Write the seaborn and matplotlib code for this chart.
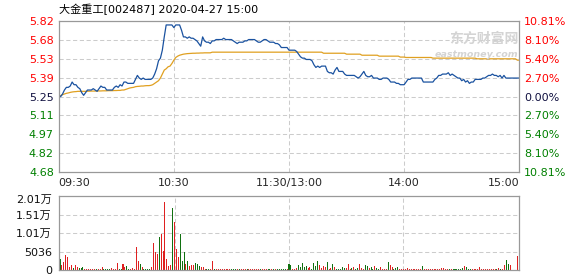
import numpy as np
import pandas as pd
import matplotlib
matplotlib.use("Agg")
import matplotlib.pyplot as plt
import seaborn as sns
from matplotlib.transforms import ScaledTranslation

# ---------------- data ----------------
title = "大金重工[002487] 2020-04-27 15:00"
prev_close = 5.25
price_ticks = [4.6825, 4.8244, 4.9662, 5.1081, 5.25, 5.3919, 5.5338, 5.6756, 5.8175]
price_tick_labels = ["4.68", "4.82", "4.97", "5.11", "5.25", "5.39", "5.53", "5.68", "5.82"]
pct_tick_labels = ["10.81%", "8.10%", "5.40%", "2.70%", "0.00%", "2.70%", "5.40%", "8.10%", "10.81%"]
time_ticks = [0, 60, 120, 180, 240]
time_labels = ["09:30", "10:30", "11:30/13:00", "14:00", "15:00"]
vol_ticks = [0, 5036, 10072, 15108, 20144]
vol_tick_labels = ["0", "5036", "1.01万", "1.51万", "2.01万"]
watermark_cn = "东方财富网"
watermark_en = "eastmoney.com"

price = [
    5.26, 5.25, 5.27, 5.30, 5.32, 5.32, 5.33, 5.36, 5.34, 5.34,
    5.32, 5.31, 5.28, 5.26, 5.28, 5.30, 5.30, 5.30, 5.31, 5.30,
    5.29, 5.31, 5.33, 5.32, 5.32, 5.30, 5.30, 5.30, 5.30, 5.32,
    5.33, 5.32, 5.34, 5.33, 5.36, 5.36, 5.35, 5.35, 5.35, 5.35,
    5.38, 5.41, 5.39, 5.38, 5.39, 5.38, 5.38, 5.38, 5.38, 5.39,
    5.42, 5.46, 5.52, 5.54, 5.60, 5.70, 5.79, 5.79, 5.79, 5.79,
    5.77, 5.79, 5.79, 5.79, 5.75, 5.70, 5.70, 5.69, 5.70, 5.69,
    5.69, 5.68, 5.67, 5.65, 5.63, 5.70, 5.67, 5.66, 5.66, 5.65,
    5.67, 5.67, 5.68, 5.68, 5.68, 5.68, 5.69, 5.68, 5.68, 5.68,
    5.68, 5.67, 5.66, 5.65, 5.66, 5.66, 5.66, 5.67, 5.67, 5.68,
    5.68, 5.68, 5.68, 5.67, 5.66, 5.66, 5.67, 5.68, 5.68, 5.67,
    5.66, 5.66, 5.66, 5.65, 5.65, 5.64, 5.62, 5.62, 5.62, 5.62,
    5.60, 5.60, 5.60, 5.60, 5.59, 5.57, 5.55, 5.54, 5.54, 5.53,
    5.53, 5.53, 5.52, 5.49, 5.47, 5.48, 5.47, 5.48, 5.48, 5.48,
    5.44, 5.43, 5.43, 5.42, 5.45, 5.47, 5.44, 5.44, 5.44, 5.42,
    5.41, 5.41, 5.41, 5.41, 5.41, 5.40, 5.39, 5.40, 5.42, 5.44,
    5.41, 5.40, 5.40, 5.41, 5.39, 5.39, 5.39, 5.38, 5.38, 5.39,
    5.39, 5.39, 5.38, 5.36, 5.36, 5.36, 5.35, 5.35, 5.34, 5.34,
    5.34, 5.36, 5.38, 5.38, 5.39, 5.39, 5.39, 5.39, 5.39, 5.39,
    5.36, 5.36, 5.36, 5.36, 5.36, 5.36, 5.38, 5.39, 5.41, 5.41,
    5.42, 5.42, 5.42, 5.43, 5.41, 5.42, 5.41, 5.40, 5.39, 5.39,
    5.37, 5.38, 5.36, 5.37, 5.35, 5.36, 5.36, 5.38, 5.38, 5.38,
    5.38, 5.39, 5.39, 5.40, 5.41, 5.41, 5.42, 5.41, 5.41, 5.40,
    5.41, 5.39, 5.41, 5.39, 5.39, 5.39, 5.39, 5.39, 5.39, 5.39,
    5.39,
]

avg_price = [
    5.250, 5.258, 5.265, 5.270, 5.275, 5.278, 5.282, 5.285, 5.287, 5.288,
    5.290, 5.290, 5.290, 5.290, 5.290, 5.291, 5.291, 5.292, 5.292, 5.292,
    5.293, 5.293, 5.293, 5.294, 5.294, 5.294, 5.295, 5.295, 5.295, 5.296,
    5.296, 5.297, 5.297, 5.300, 5.300, 5.305, 5.310, 5.315, 5.318, 5.320,
    5.325, 5.327, 5.328, 5.330, 5.330, 5.332, 5.333, 5.333, 5.335, 5.340,
    5.350, 5.360, 5.370, 5.390, 5.420, 5.450, 5.460, 5.475, 5.480, 5.500,
    5.525, 5.545, 5.555, 5.562, 5.566, 5.570, 5.572, 5.574, 5.575, 5.576,
    5.577, 5.577, 5.578, 5.578, 5.579, 5.579, 5.580, 5.580, 5.580, 5.580,
    5.585, 5.585, 5.585, 5.585, 5.585, 5.585, 5.585, 5.585, 5.585, 5.585,
    5.585, 5.585, 5.585, 5.585, 5.585, 5.585, 5.585, 5.585, 5.585, 5.585,
    5.585, 5.585, 5.585, 5.585, 5.585, 5.585, 5.585, 5.585, 5.585, 5.585,
    5.585, 5.585, 5.585, 5.585, 5.585, 5.585, 5.585, 5.585, 5.585, 5.585,
    5.585, 5.585, 5.585, 5.585, 5.585, 5.585, 5.585, 5.585, 5.585, 5.585,
    5.585, 5.585, 5.585, 5.585, 5.585, 5.585, 5.585, 5.585, 5.577, 5.577,
    5.577, 5.577, 5.577, 5.577, 5.577, 5.577, 5.577, 5.577, 5.577, 5.577,
    5.570, 5.570, 5.570, 5.570, 5.570, 5.570, 5.570, 5.570, 5.562, 5.562,
    5.562, 5.562, 5.562, 5.562, 5.562, 5.562, 5.562, 5.555, 5.555, 5.555,
    5.555, 5.555, 5.555, 5.555, 5.555, 5.555, 5.555, 5.555, 5.548, 5.548,
    5.548, 5.545, 5.545, 5.545, 5.545, 5.545, 5.545, 5.545, 5.545, 5.545,
    5.545, 5.545, 5.545, 5.545, 5.545, 5.540, 5.540, 5.540, 5.540, 5.540,
    5.540, 5.540, 5.540, 5.540, 5.540, 5.540, 5.540, 5.540, 5.540, 5.540,
    5.540, 5.540, 5.540, 5.540, 5.540, 5.540, 5.540, 5.540, 5.535, 5.535,
    5.535, 5.535, 5.535, 5.535, 5.535, 5.535, 5.535, 5.535, 5.535, 5.535,
    5.535, 5.535, 5.535, 5.535, 5.535, 5.535, 5.535, 5.535, 5.535, 5.525,
    5.525,
]

volume = [
    2990, 1360, 2270, 4080, 3630, 900, 1360, 630, 1360, 900,
    500, 630, 730, 270, 270, 270, 270, 270, 270, 270,
    270, 270, 730, 270, 270, 270, 270, 450, 270, 270,
    1810, 270, 270, 1630, 730, 1090, 270, 270, 450, 270,
    6170, 2450, 1630, 800, 270, 270, 270, 270, 730, 7440,
    4990, 4350, 9070, 9800, 5170, 18500, 3000, 1090, 1360, 16870,
    13060, 5710, 3630, 9800, 2450, 4900, 1630, 2450, 1180, 1360,
    1360, 1810, 1630, 1090, 900, 730, 270, 270, 270, 270,
    2450, 270, 270, 270, 180, 270, 180, 270, 270, 270,
    270, 270, 270, 180, 270, 270, 270, 270, 180, 270,
    270, 270, 180, 270, 270, 270, 270, 270, 270, 270,
    270, 270, 270, 270, 270, 270, 270, 270, 180, 270,
    1630, 1360, 270, 180, 450, 1360, 900, 2000, 730, 1090,
    450, 730, 180, 2000, 1090, 2450, 1360, 450, 1090, 730,
    2270, 360, 540, 1630, 900, 270, 270, 270, 730, 540,
    540, 1630, 270, 540, 900, 270, 635, 1630, 540, 270,
    1360, 1090, 635, 900, 360, 1090, 450, 270, 900, 270,
    270, 270, 2270, 1360, 726, 360, 635, 820, 270, 270,
    270, 270, 544, 270, 270, 270, 270, 270, 270, 270,
    1090, 270, 270, 270, 270, 270, 270, 270, 270, 270,
    450, 544, 360, 360, 270, 270, 270, 270, 270, 270,
    270, 454, 1088, 726, 270, 270, 270, 363, 270, 270,
    726, 270, 270, 270, 270, 270, 270, 270, 270, 363,
    544, 363, 270, 1360, 2721, 1633, 1360, 0, 0, 0,
    3809,
]

direction = list(
    "GRRRRRRGRR" "GGGRRRRRRG" "RRRGGGGRRR" "RGGRRGGRRR" "RRGRGGGGRR"
    "RRGRRRRRRG" "RRRGGGRGRR" "RGGGRRRGGR" "RGRRRRRRRR" "GGGRGRRRGR"
    "RRRRRGRRRG" "GRGRGGGGGR" "GGRRRGGGGG" "RRGGGGRRRR" "GRRGRGGGGG"
    "RRRGRGGRRR" "GGRGGRGGRR" "RRGRRGGGRR" "RRRRRRRRRR" "GRRRRRRRRR"
    "RRRRGRGGGG" "GGRGGGRRRR" "RRRRRRRRRG" "RGRRGGRRRR" "R"
)

# ---------------- figure ----------------
W, H = 578, 276
sns.set_style("white")
plt.rcParams["font.family"] = ["DejaVu Sans", "Noto Sans CJK SC"]
fig = plt.figure(figsize=(W / 100, H / 100), dpi=100)

L, R = 58.7, 519.3
ax = fig.add_axes([L / W, 1 - 172 / H, (R - L) / W, (172 - 21.3) / H])
axv = fig.add_axes([L / W, 1 - 270 / H, (R - L) / W, (270 - 196) / H])

df = pd.DataFrame({
    "minute": np.arange(len(price)),
    "price": price,
    "avg": avg_price,
    "volume": volume,
    "dir": direction,
})

grid_kw = dict(color="#cccccc", linewidth=0.75, linestyle=(0, (4, 2.5)), zorder=0.5)
spine_col = "#999999"
red, green, dark = "#ff0000", "#008000", "#101040"


def color_for(v):
    if v > prev_close + 1e-6:
        return red
    if v < prev_close - 1e-6:
        return green
    return dark


# price panel
for v in price_ticks[1:-1]:
    ax.axhline(v, **grid_kw)
for t in time_ticks[1:-1]:
    ax.axvline(t, **grid_kw)
sns.lineplot(data=df, x="minute", y="avg", ax=ax, color="#e0a020", linewidth=0.9)
sns.lineplot(data=df, x="minute", y="price", ax=ax, color="#1a52a0", linewidth=0.9)
ax.set_xlim(0, 240)
ax.set_ylim(price_ticks[0], price_ticks[-1])
ax.set_xlabel("")
ax.set_ylabel("")
ax.set_yticks(price_ticks, price_tick_labels)
ax.set_xticks(time_ticks, time_labels)
ax.tick_params(axis="both", length=0, labelsize=8)
ax.tick_params(axis="y", pad=3.5)
ax.tick_params(axis="x", pad=4)
for s in ax.spines.values():
    s.set_color(spine_col)
    s.set_linewidth(0.9)
xl = ax.get_xticklabels()
xl[0].set_ha("left")
xl[-1].set_ha("right")
for t, v in zip(ax.get_yticklabels(), price_ticks):
    t.set_color(color_for(v))

axr = ax.twinx()
axr.set_ylim(price_ticks[0], price_ticks[-1])
axr.set_yticks(price_ticks, pct_tick_labels)
axr.tick_params(axis="y", length=0, labelsize=8, pad=3.5)
for s in axr.spines.values():
    s.set_visible(False)
for t, v in zip(axr.get_yticklabels(), price_ticks):
    t.set_color(color_for(v))

# watermark
ax.text(0.998, 0.885, watermark_cn, transform=ax.transAxes, ha="right", va="center",
        fontsize=10, color="#d4d4d4", fontweight="bold", family=["Noto Sans CJK SC"])
ax.text(0.998, 0.78, watermark_en, transform=ax.transAxes, ha="right", va="center",
        fontsize=6.8, color="#d4d4d4", fontweight="bold", style="italic")

# volume panel
for v in vol_ticks[1:-1]:
    axv.axhline(v, **grid_kw)
for t in time_ticks[1:-1]:
    axv.axvline(t, **grid_kw)
sns.barplot(data=df, x="minute", y="volume", hue="dir", palette={"R": red, "G": green},
            native_scale=True, dodge=False, width=0.53, errorbar=None, legend=False,
            linewidth=0, antialiased=False, ax=axv)
axv.set_xlim(-0.7, 240.7)
axv.set_ylim(vol_ticks[0], vol_ticks[-1])
axv.set_xlabel("")
axv.set_ylabel("")
axv.set_xticks([])
axv.set_yticks(vol_ticks, vol_tick_labels)
axv.tick_params(axis="both", length=0, labelsize=8)
axv.tick_params(axis="y", pad=5)
for t in axv.get_yticklabels():
    t.set_color("#111111")
top_lab = axv.get_yticklabels()[-1]
top_lab.set_transform(top_lab.get_transform() + ScaledTranslation(0, -3 / 100, fig.dpi_scale_trans))
for s in axv.spines.values():
    s.set_color(spine_col)
    s.set_linewidth(0.9)

fig.text(L / W, 1 - 9 / H, title, ha="left", va="center", fontsize=8, color="#000000")

fig.savefig("out.png", dpi=100)
